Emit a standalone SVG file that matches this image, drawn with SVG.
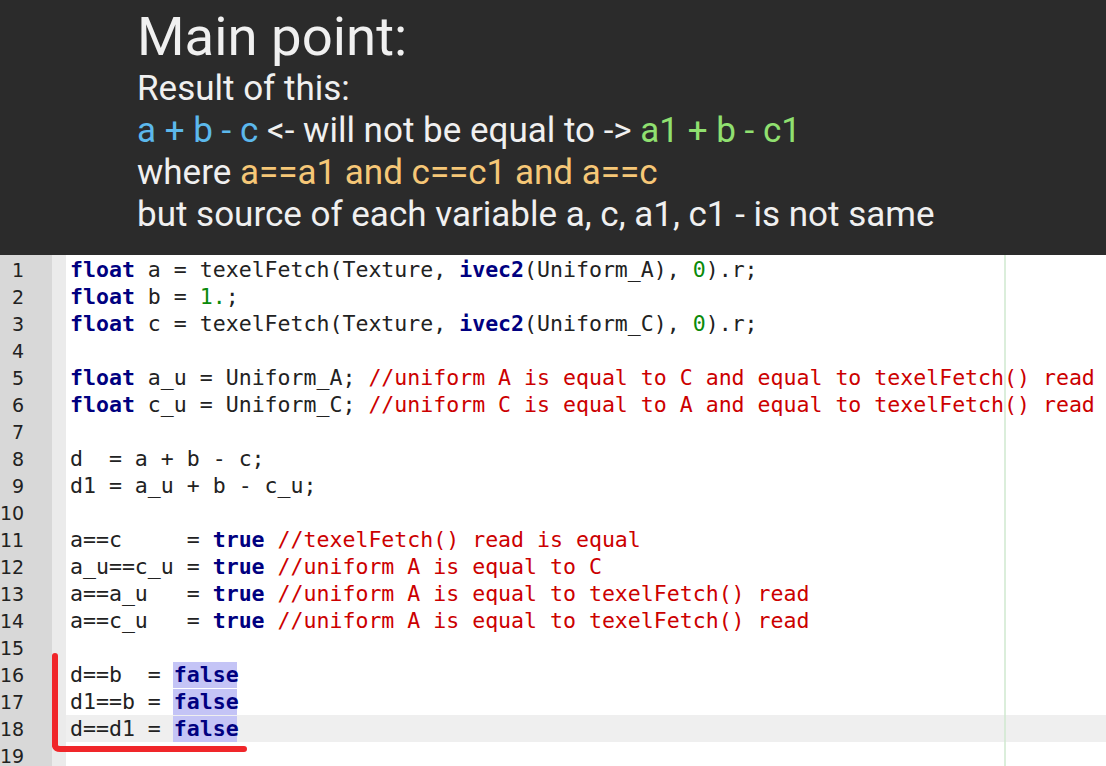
<svg xmlns="http://www.w3.org/2000/svg" width="1106" height="766" viewBox="0 0 1106 766">
<style>
.h{font-family:Roboto,"Open Sans",sans-serif;fill:#f0f0f0}
.c{font-family:"DejaVu Sans Mono",monospace;font-size:21.55px;fill:#222;white-space:pre}
.n{font-family:"DejaVu Sans",sans-serif;font-size:19px;fill:#222}
.k{font-weight:bold;fill:#000080}
.m{fill:#cc0000}
.g{fill:#0a8a0a}
</style>
<rect width="1106" height="766" fill="#fff"/>
<g id="header">
<rect width="1106" height="255" fill="#2b2b2b"/>
<text class="h" x="137" y="55" font-size="54.5">Main point:</text>
<text class="h" x="137" y="100" font-size="35">Result of this:</text>
<text class="h" x="137" y="142" font-size="35"><tspan fill="#5cb8ec">a + b - c</tspan> &lt;- will not be equal to -&gt; <tspan fill="#90e070">a1 + b - c1</tspan></text>
<text class="h" x="137" y="184" font-size="35">where <tspan fill="#f6c777">a==a1 and c==c1 and a==c</tspan></text>
<text class="h" x="137" y="226" font-size="35">but source of each variable a, c, a1, c1 - is not same</text>
</g>
<g id="editor">
<rect x="0" y="255" width="52" height="511" fill="#d8d8d8"/>
<rect x="52" y="255" width="14" height="511" fill="#ebebeb"/>
<rect x="66" y="715" width="1040" height="27" fill="#efefef"/>
<line x1="1005" y1="255" x2="1005" y2="766" stroke="#cfe8cf" stroke-width="1.5"/>
<rect x="173" y="662" width="64" height="26" fill="#c4c4f6"/>
<rect x="173" y="689" width="64" height="26" fill="#c4c4f6"/>
<rect x="173" y="716" width="64" height="26" fill="#c4c4f6"/>
<g class="n">
<text x="12" y="277">1</text><text x="12" y="304">2</text><text x="12" y="331">3</text><text x="12" y="358">4</text><text x="12" y="385">5</text><text x="12" y="412">6</text><text x="12" y="439">7</text><text x="12" y="466">8</text><text x="12" y="493">9</text><text x="0" y="520">10</text><text x="0" y="547">11</text><text x="0" y="574">12</text><text x="0" y="601">13</text><text x="0" y="628">14</text><text x="0" y="655">15</text><text x="0" y="682">16</text><text x="0" y="709">17</text><text x="0" y="736">18</text><text x="0" y="763">19</text>
</g>
<g class="c">
<text x="70" y="277"><tspan class="k">float</tspan> a = texelFetch(Texture, <tspan class="k">ivec2</tspan>(Uniform_A), <tspan class="g">0</tspan>).r;</text>
<text x="70" y="304"><tspan class="k">float</tspan> b = <tspan class="g">1.</tspan>;</text>
<text x="70" y="331"><tspan class="k">float</tspan> c = texelFetch(Texture, <tspan class="k">ivec2</tspan>(Uniform_C), <tspan class="g">0</tspan>).r;</text>
<text x="70" y="385"><tspan class="k">float</tspan> a_u = Uniform_A; <tspan class="m">//uniform A is equal to C and equal to texelFetch() read</tspan></text>
<text x="70" y="412"><tspan class="k">float</tspan> c_u = Uniform_C; <tspan class="m">//uniform C is equal to A and equal to texelFetch() read</tspan></text>
<text x="70" y="466">d&#160;&#160;= a + b - c;</text>
<text x="70" y="493">d1 = a_u + b - c_u;</text>
<text x="70" y="547">a==c&#160;&#160;&#160;&#160;&#160;= <tspan class="k">true</tspan> <tspan class="m">//texelFetch() read is equal</tspan></text>
<text x="70" y="574">a_u==c_u = <tspan class="k">true</tspan> <tspan class="m">//uniform A is equal to C</tspan></text>
<text x="70" y="601">a==a_u&#160;&#160;&#160;= <tspan class="k">true</tspan> <tspan class="m">//uniform A is equal to texelFetch() read</tspan></text>
<text x="70" y="628">a==c_u&#160;&#160;&#160;= <tspan class="k">true</tspan> <tspan class="m">//uniform A is equal to texelFetch() read</tspan></text>
<text x="70" y="682">d==b&#160;&#160;= <tspan class="k">false</tspan></text>
<text x="70" y="709">d1==b = <tspan class="k">false</tspan></text>
<text x="70" y="736">d==d1 = <tspan class="k">false</tspan></text>
</g>
<path d="M55 656 L55 746 Q56 749 60 749 L244 749" fill="none" stroke="#f0262a" stroke-width="6" stroke-linecap="round" stroke-linejoin="round"/>
</g>
</svg>
